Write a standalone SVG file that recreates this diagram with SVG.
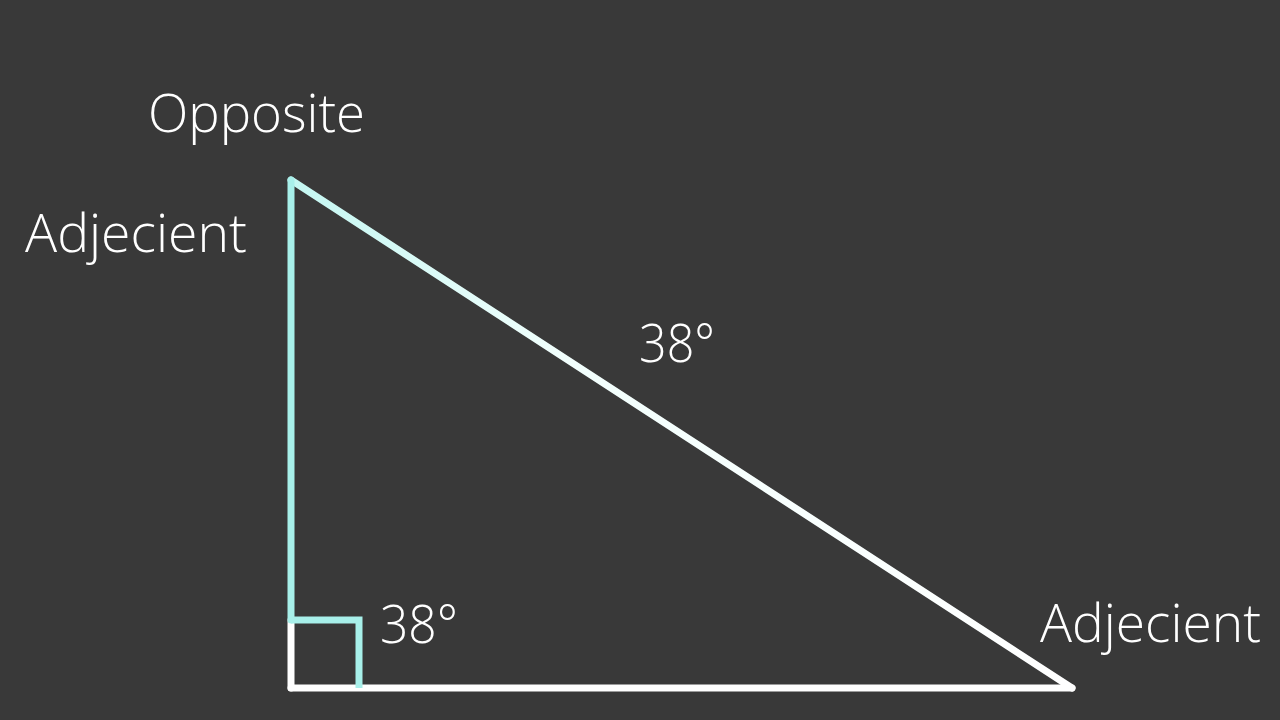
<svg xmlns="http://www.w3.org/2000/svg" width="1280" height="720" viewBox="0 0 1280 720">
  <defs>
    <style>
      .lbl { font-family: "Open Sans", "Noto Sans", "Liberation Sans", sans-serif; font-weight: 300; font-size: 54px; fill: #ffffff; }
      .cy { stroke: #a8f0ea; stroke-width: 7; fill: none; }
      .wh { stroke: #ffffff; stroke-width: 7; fill: none; stroke-linecap: round; }
    </style>
    <linearGradient id="hyp" gradientUnits="userSpaceOnUse" x1="291" y1="180" x2="1072" y2="688">
      <stop offset="0" stop-color="#c4f7f2"/>
      <stop offset="0.35" stop-color="#f2fffd"/>
      <stop offset="1" stop-color="#ffffff"/>
    </linearGradient>
  </defs>
  <rect x="0" y="0" width="1280" height="720" fill="#393939"/>
  <g id="connectors">
    <line class="wh" x1="291" y1="620" x2="291" y2="688"/>
    <line class="wh" x1="291" y1="688" x2="1072" y2="688"/>
    <line x1="291" y1="180" x2="1072" y2="688" stroke="url(#hyp)" stroke-width="7" stroke-linecap="round"/>
    <line class="cy" x1="291" y1="180" x2="291" y2="620" stroke-linecap="round"/>
    <polyline class="cy" points="291,620 359,620 359,688" stroke-linecap="butt" stroke-linejoin="miter"/>
  </g>
  <g id="label-opposite">
    <text class="lbl" x="148" y="132" textLength="217" lengthAdjust="spacingAndGlyphs">Opposite</text>
  </g>
  <g id="label-adjecient-left">
    <text class="lbl" x="25" y="252" textLength="222" lengthAdjust="spacingAndGlyphs">Adjecient</text>
  </g>
  <g id="label-adjecient-right">
    <text class="lbl" x="1040" y="642" textLength="221" lengthAdjust="spacingAndGlyphs">Adjecient</text>
  </g>
  <g id="label-angle-top">
    <text class="lbl" x="639" y="362" textLength="76" lengthAdjust="spacingAndGlyphs">38°</text>
  </g>
  <g id="label-angle-bottom">
    <text class="lbl" x="380" y="643" textLength="78" lengthAdjust="spacingAndGlyphs">38°</text>
  </g>
</svg>
